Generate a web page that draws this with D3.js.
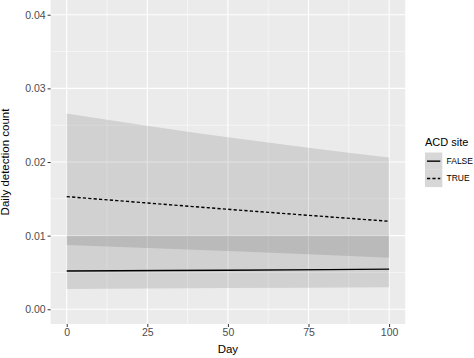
<!DOCTYPE html>
<html><head><meta charset="utf-8">
<script src="https://cdn.jsdelivr.net/npm/d3@7"></script>
<style>body{margin:0;background:#fff}svg{display:block}text{font-family:"Liberation Sans",Arial,sans-serif}</style>
</head><body><svg id="c" width="474" height="358"></svg>
<script>
const days = [0, 50, 100];
const falseFit = [0.0052, 0.0053, 0.00545];
const falseLo = [0.00276, 0.00288, 0.00299];
const falseHi = [0.00995, 0.0100, 0.0100];
const trueFit = [0.0153, 0.01358, 0.01195];
const trueLo = [0.00873, 0.00792, 0.0070];
const trueHi = [0.0266, 0.02335, 0.0206];
const xTicks = [0, 25, 50, 75, 100];
const yTicks = [0, 0.01, 0.02, 0.03, 0.04];
const xMinor = [12.5, 37.5, 62.5, 87.5];
const yMinor = [0.005, 0.015, 0.025, 0.035];
const seriesNames = ["FALSE", "TRUE"];

const svg = d3.select("#c");
const L = 50.6, R = 405.2, T = 0, B = 324;
const x = d3.scaleLinear().domain([-5, 105]).range([L, R]);
const y = d3.scaleLinear().domain([-0.002, 0.042]).range([B, T]);

svg.append("rect").attr("x", L).attr("y", T).attr("width", R - L).attr("height", B - T).attr("fill", "#EBEBEB");
const g = svg.append("g");
g.selectAll(".xm").data(xMinor).join("line").attr("x1", d => x(d)).attr("x2", d => x(d)).attr("y1", T).attr("y2", B).attr("stroke", "#fff").attr("stroke-width", 0.55);
g.selectAll(".ym").data(yMinor).join("line").attr("y1", d => y(d)).attr("y2", d => y(d)).attr("x1", L).attr("x2", R).attr("stroke", "#fff").attr("stroke-width", 0.55);
g.selectAll(".xM").data(xTicks).join("line").attr("x1", d => x(d)).attr("x2", d => x(d)).attr("y1", T).attr("y2", B).attr("stroke", "#fff").attr("stroke-width", 1.1);
g.selectAll(".yM").data(yTicks).join("line").attr("y1", d => y(d)).attr("y2", d => y(d)).attr("x1", L).attr("x2", R).attr("stroke", "#fff").attr("stroke-width", 1.1);

const series = [
  {name: "FALSE", fit: falseFit, lo: falseLo, hi: falseHi, dash: null},
  {name: "TRUE", fit: trueFit, lo: trueLo, hi: trueHi, dash: "3.2,2.2"}
];
const area = d3.area().x(d => x(d.d)).y0(d => y(d.lo)).y1(d => y(d.hi)).curve(d3.curveMonotoneX);
const line = d3.line().x(d => x(d.d)).y(d => y(d.f)).curve(d3.curveMonotoneX);
series.forEach(s => {
  const pts = days.map((d, i) => ({d, lo: s.lo[i], hi: s.hi[i], f: s.fit[i]}));
  svg.append("path").datum(pts).attr("d", area).attr("fill", "#000").attr("fill-opacity", 0.11);
});
series.forEach(s => {
  const pts = days.map((d, i) => ({d, lo: s.lo[i], hi: s.hi[i], f: s.fit[i]}));
  svg.append("path").datum(pts).attr("d", line).attr("fill", "none").attr("stroke", "#000").attr("stroke-width", 1.4).attr("stroke-dasharray", s.dash);
});

// axes
const xa = svg.append("g").attr("transform", `translate(0,${B})`).call(d3.axisBottom(x).tickValues(xTicks).tickSize(3).tickPadding(2).tickFormat(d3.format("d")));
const ya = svg.append("g").attr("transform", `translate(${L},0)`).call(d3.axisLeft(y).tickValues(yTicks).tickSize(3).tickPadding(2).tickFormat(d3.format(".2f")));
[xa, ya].forEach(a => {
  a.select(".domain").remove();
  a.selectAll(".tick line").attr("stroke", "#333").attr("stroke-width", 1);
  a.selectAll(".tick text").attr("fill", "#4D4D4D").style("font-size", "10.5px").style("font-family", '"Liberation Sans",Arial,sans-serif');
});

svg.append("text").attr("x", (L + R) / 2).attr("y", 353).attr("text-anchor", "middle").style("font-size", "11.5px").attr("fill", "#000").text("Day");
svg.append("text").attr("transform", `translate(9,${(T + B) / 2}) rotate(-90)`).attr("text-anchor", "middle").style("font-size", "11.5px").attr("fill", "#000").text("Daily detection count");

// legend
const lg = svg.append("g");
lg.append("text").attr("x", 425).attr("y", 145.5).style("font-size", "11px").attr("fill", "#000").text("ACD site");
seriesNames.forEach((n, i) => {
  const ky = 152.5 + i * 17.3;
  lg.append("rect").attr("x", 425).attr("y", ky).attr("width", 17.3).attr("height", 17.3).attr("fill", "#F2F2F2");
  lg.append("rect").attr("x", 425).attr("y", ky).attr("width", 17.3).attr("height", 17.3).attr("fill", "#000").attr("fill-opacity", 0.11);
  lg.append("line").attr("x1", 427).attr("x2", 440.3).attr("y1", ky + 8.65).attr("y2", ky + 8.65).attr("stroke", "#000").attr("stroke-width", 1.4).attr("stroke-dasharray", series[i].dash);
  lg.append("text").attr("x", 446.5).attr("y", ky + 8.65).attr("dy", "0.35em").style("font-size", "8.5px").attr("fill", "#000").text(n);
});
</script></body></html>
